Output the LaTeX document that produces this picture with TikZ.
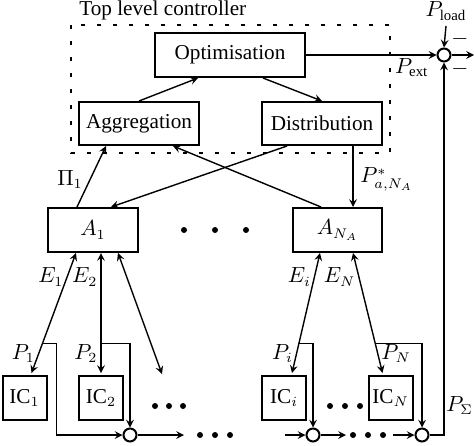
\documentclass[tikz,border=0pt]{standalone}
\usepackage{amsmath,amssymb}
\usepackage{fontspec}
\setmainfont{Liberation Serif}
\usepackage{tikz}
\usetikzlibrary{calc}
\newcommand{\Psum}{P_{\Sigma}}

\begin{document}
\begin{tikzpicture}[x=0.5pt,y=-0.5pt,line width=0.7pt,->,>=stealth,
    font=\fontsize{10.6}{12}\selectfont,
    block/.style={draw,line width=1pt,rectangle,inner sep=0pt},
    sumnode/.style={draw,line width=1pt,circle,minimum size=6.5pt,inner sep=0pt},
    dot/.style={fill,circle,inner sep=0pt,minimum size=3pt},
    lbl/.style={inner sep=1.5pt}]
        \useasboundingbox (0,0) rectangle (474,445);
        % top level controller
        \node[anchor=base west] (title) at (72,15) {Top level controller};
        \draw[-,line width=1.2pt,dash pattern=on 2pt off 6pt] (71,25) rectangle (390,153);
        \node[block,minimum width=75pt,minimum height=22pt] (opt) at (230,55) {Optimisation};
        \node[block,minimum width=60pt,minimum height=21.5pt] (agg) at (139,123.5) {Aggregation};
        \node[block,minimum width=60pt,minimum height=21.5pt] (dist) at (322,123.5) {Distribution};
        \node[sumnode] (sumtop) at (444,55) {};
        \node[inner sep=0.5pt] (pload) at (446,11) {$P_{\mathrm{load}}$};
        \node[inner sep=0pt] (m1) at (460,39) {$-$};
        \node[inner sep=0pt] (m2) at (460,69) {$-$};
        \coordinate (out) at (474,55);

        % aggregators
        \node[block,minimum width=45pt,minimum height=22pt] (a1) at (93,230) {$A_1$};
        \node[block,minimum width=44.5pt,minimum height=22pt] (ana) at (337.5,230) {$A_{N_A}$};

        % individual controllers
        \node[block,minimum width=22pt,minimum height=22pt] (ic1) at (24.5,398) {IC$_1$};
        \node[block,minimum width=22pt,minimum height=22pt] (ic2) at (101,398) {IC$_2$};
        \node[block,minimum width=22pt,minimum height=22pt] (ici) at (284,398) {IC$_i$};
        \node[block,minimum width=22pt,minimum height=22pt] (icn) at (390.5,398) {IC$_N$};
        \coordinate (e3) at (162,374);

        % summation
        \node[sumnode] (sum2) at (130,435) {};
        \node[sumnode] (sumi) at (313,435) {};
        \node[sumnode] (sumn) at (422,435) {};
        \coordinate (d1) at (184,435);
        \coordinate (d2) at (285,435);
        \coordinate (d3) at (346,435);
        \coordinate (d4) at (393,435);

        \foreach \x/\y in {184/230,215/230,246/230,155/406,169/406,183/406,
            330/406,345/406,360/406,200/435,215/435,230/435,353/435,368/435,383/435}
            \node[dot] at (\x,\y) {};

        % top level links
        \draw (agg.north) -- ([xshift=22pt]opt.south west);
        \draw ([xshift=-21.5pt]opt.south east) -- (dist.north);
        \draw (opt.east) -- node[pos=0.81,below,lbl] {$P_{\mathrm{ext}}$} (sumtop.west);
        \draw ([yshift=-2pt]pload.south) -- (sumtop.north);
        \draw (sumtop.east) -- (out);

        \draw ([xshift=15pt]a1.north west) -- node[pos=0.45,left] {$\Pi_1$} ([xshift=14pt]agg.south west);
        \draw ([xshift=14.5pt]ana.north west) -- ([xshift=-13.5pt]agg.south east);
        \draw ([xshift=13pt]dist.south west) -- ([xshift=-14pt]a1.north east);
        \draw ([xshift=-15pt]dist.south east) -- node[pos=0.55,right] {$P^*_{a,N_A}$} ([xshift=-15pt]dist.south east |- ana.north);

        % aggregator to controllers
        \coordinate (e1a) at ([xshift=14.5pt]a1.south west);
        \coordinate (e1b) at ([xshift=15pt,yshift=1pt]ic1.north west);
        \coordinate (e2a) at (ic2.north |- a1.south);
        \coordinate (e2b) at ([yshift=1pt]ic2.north);
        \coordinate (eia) at ([xshift=14pt]ana.south west);
        \coordinate (eib) at ([xshift=15.5pt,yshift=1pt]ici.north west);
        \coordinate (ena) at ([xshift=-15pt]ana.south east);
        \coordinate (enb) at ([xshift=7.5pt,yshift=1pt]icn.north west);
        \draw[<->] (e1a) -- node[pos=0.2,left,lbl] {$E_1$} node[pos=0.84,left,lbl] {$P_1$} (e1b);
        \draw[<->] (e2a) -- node[pos=0.2,left,lbl] {$E_2$} node[pos=0.84,left,lbl] {$P_2$} (e2b);
        \draw[<->] ([xshift=-10.5pt]a1.south east) -- (e3);
        \draw[<->] (eia) -- node[pos=0.2,left,lbl] {$E_i$} node[pos=0.84,left,lbl] {$P_i$} (eib);
        \draw[<->] (ena) -- node[pos=0.2,left,lbl] {$E_N$} node[pos=0.84,right,lbl] {$P_N$} (enb);

        % power flows to summation
        \draw ($(e1a)!0.756!(e1b)$) -| ([xshift=4.5pt]ic1.east) |- (sum2.west);
        \draw ($(e2a)!0.756!(e2b)$) -| (sum2.north);
        \draw ($(eia)!0.756!(eib)$) -| (sumi.north);
        \draw ($(ena)!0.756!(enb)$) -| (sumn.north);
        \draw (sum2.east) -- (d1);
        \draw (d2) -- (sumi.west);
        \draw (sumi.east) -- (d3);
        \draw (d4) -- (sumn.west);
        \draw (sumn.east) -| node[pos=0.54,right,inner sep=0.8pt] {$\Psum$} (sumtop.south);
    \end{tikzpicture}
\end{document}
